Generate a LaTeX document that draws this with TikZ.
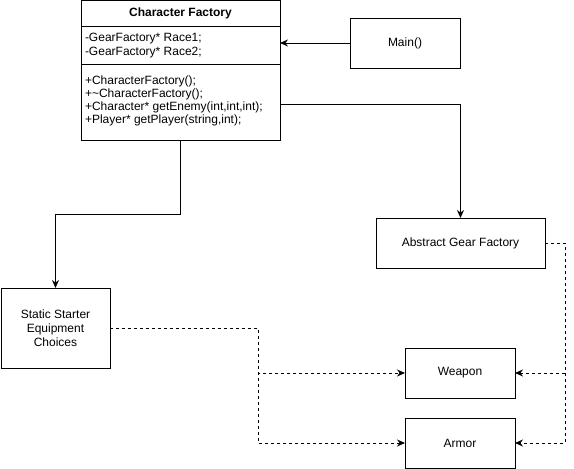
\documentclass[tikz,border=0pt]{standalone}
\usepackage{fontspec}
\setmainfont{Liberation Sans}
\usetikzlibrary{arrows.meta,positioning}

\begin{document}
\begin{tikzpicture}[x=1pt, y=-1pt, line width=1pt,
	box/.style = {draw=black, line width=1pt, align=center, inner sep=0pt, outer sep=0pt,
		font=\fontsize{12}{14}\selectfont, minimum width=110pt, minimum height=50pt},
	classpart/.style = {box, anchor=north, minimum width=199pt},
	link/.style = {-{Stealth[length=8pt,width=7pt]}},
	uses/.style = {link, dash pattern=on 3pt off 3pt}]
	\useasboundingbox (0,0) rectangle (574,469);
	% character factory class
	\node [classpart, minimum height=26pt, font=\fontsize{12}{14}\selectfont\bfseries] (cftitle) at (180.5,0.5) {Character Factory};
	\node [classpart, minimum height=38pt] (cfattr) at (cftitle.south) {\parbox{191pt}{-GearFactory* Race1;\\-GearFactory* Race2;}};
	\node [classpart, minimum height=76pt, font=\fontsize{12}{13}\selectfont] (cfops) at (cfattr.south) {\parbox[c][76pt][t]{191pt}{\rule{0pt}{20pt}+CharacterFactory();\\+\textasciitilde CharacterFactory();\\+Character* getEnemy(int,int,int);\\+Player* getPlayer(string,int);}};
	% other boxes
	\node [box] (main) at (405,43) {Main()};
	\node [box, minimum width=169pt] (agf) at (460.5,243) {Abstract Gear Factory};
	\node [box, minimum width=109pt, minimum height=80pt] (static) at (55.5,328) {Static Starter\\Equipment\\Choices};
	\node [box] (weapon) at (460,373) {Weapon};
	\node [box] (armor) at (460,443) {Armor};
	% connectors
	\draw [link] (main.west) -- (main.west -| cfattr.east);
	\draw [link] (cfops.south) -- ++(0,74) -| (static.north);
	\draw [link] (cfops.east |- 0,104) -| (agf.north);
	\draw [uses] (agf.east) -- ++(20,0) |- (weapon.east);
	\draw [uses] (agf.east) -- ++(20,0) |- (armor.east);
	\draw [uses] (static.east) -- ++(148,0) |- (weapon.west);
	\draw [uses] (static.east) -- ++(148,0) |- (armor.west);
\end{tikzpicture}
\end{document}
